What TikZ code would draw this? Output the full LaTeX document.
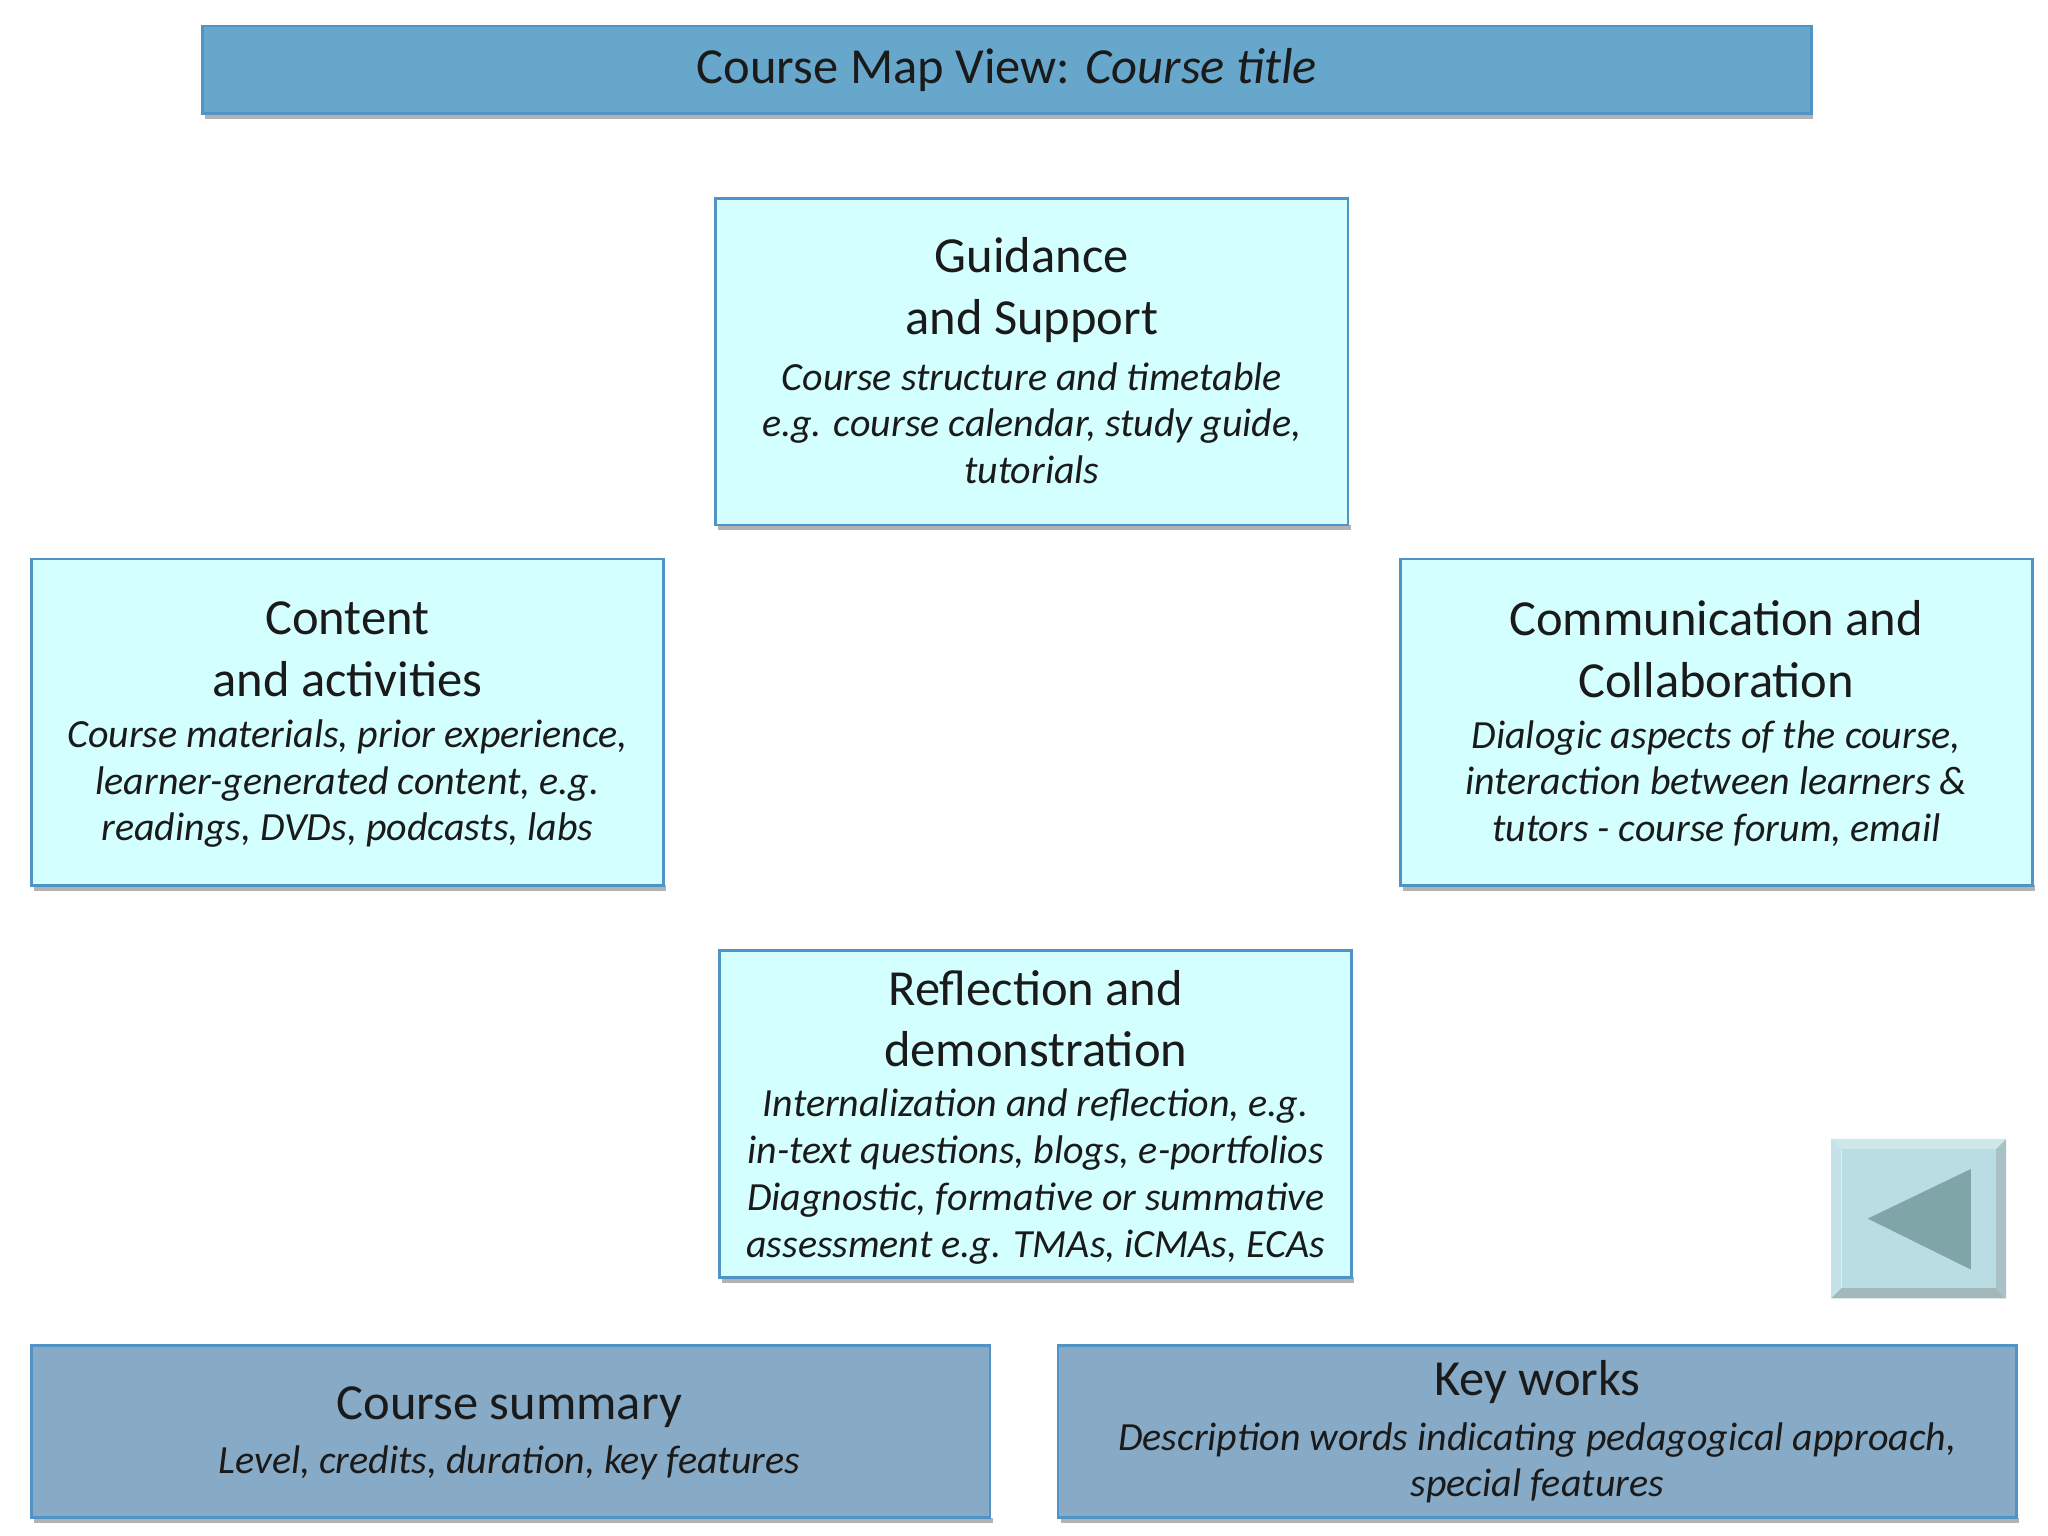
\documentclass[tikz,border=0pt]{standalone}
\usepackage{fontspec}
\setmainfont{Carlito}
\definecolor{titlebg}{HTML}{68A7CC}
\definecolor{cyanbg}{HTML}{D4FFFF}
\definecolor{bord}{HTML}{4F94C4}
\definecolor{darkbg}{HTML}{87ABC7}
\definecolor{btn}{HTML}{B9DDE3}
\definecolor{tri}{HTML}{7FA5A9}
\definecolor{txt}{HTML}{1A1A1A}
\begin{document}
\begin{tikzpicture}[x=0.01cm,y=-0.01cm,
 box/.style={draw=bord,line width=0.6pt,fill=cyanbg},
 shadowline/.style={draw=gray!60,line width=1.2pt},
 head/.style={font=\fontsize{11}{13.4}\selectfont,align=center,text=txt},
 sub/.style={font=\fontsize{8.7}{10.2}\selectfont\itshape,align=center,text=txt}]
\useasboundingbox (0,0) rectangle (1568,1176);
% title
\draw[shadowline] (157,89) -- (1388,89);
\draw[box,fill=titlebg] (155,20) rectangle (1387,87);
\node[font=\fontsize{11}{13}\selectfont,text=txt] (title) at (771,54) {Course Map View: \textit{Course title}};
% boxes
\foreach \x/\y/\n in {548/152/g,24/428/c,1072/428/m,551/728/r}{
 \draw[shadowline] (\x+2,\y+252) -- (\x+486,\y+252);
 \draw[box] (\x,\y) rectangle (\x+484,\y+250);
}
\node[head] (gh) at (790,222) {Guidance\\and Support};
\node[sub] (gs) at (790,324) {Course structure and timetable\\e.g. course calendar, study guide,\\tutorials};
\node[head] (ch) at (266,497) {Content\\and activities};
\node[sub] (cs) at (266,600) {Course materials, prior experience,\\learner-generated content, e.g.\\readings, DVDs, podcasts, labs};
\node[head] (mh) at (1314,497) {Communication and\\Collaboration};
\node[sub] (ms) at (1314,600) {Dialogic aspects of the course,\\interaction between learners \&\\tutors - course forum, email};
\node[head] (rh) at (793,780) {Reflection and\\demonstration};
\node[sub] (rs) at (793,901) {Internalization and reflection, e.g.\\in-text questions, blogs, e-portfolios\\Diagnostic, formative or summative\\assessment e.g. TMAs, iCMAs, ECAs};
% bottom
\draw[shadowline] (26,1164) -- (760,1164);
\draw[box,fill=darkbg] (24,1030) rectangle (758,1162);
\node[head] (sh) at (390,1077) {Course summary};
\node[sub] (ss) at (390,1120) {Level, credits, duration, key features};
\draw[shadowline] (812,1164) -- (1546,1164);
\draw[box,fill=darkbg] (810,1030) rectangle (1544,1162);
\node[head] (kh) at (1177,1058) {Key works};
\node[sub] (ks) at (1177,1120) {Description words indicating pedagogical approach,\\special features};
% button
\fill[btn!70!white] (1402,872) -- (1536,872) -- (1528,880) -- (1410,880) -- cycle;
\fill[btn!70!gray] (1536,872) -- (1536,994) -- (1528,986) -- (1528,880) -- cycle;
\fill[btn!60!gray] (1402,994) -- (1536,994) -- (1528,986) -- (1410,986) -- cycle;
\fill[btn!85!white] (1402,872) -- (1410,880) -- (1410,986) -- (1402,994) -- cycle;
\fill[btn] (1410,880) rectangle (1528,986);
\fill[tri] (1430,933) -- (1509,895) -- (1509,972) -- cycle;
\end{tikzpicture}
\end{document}
